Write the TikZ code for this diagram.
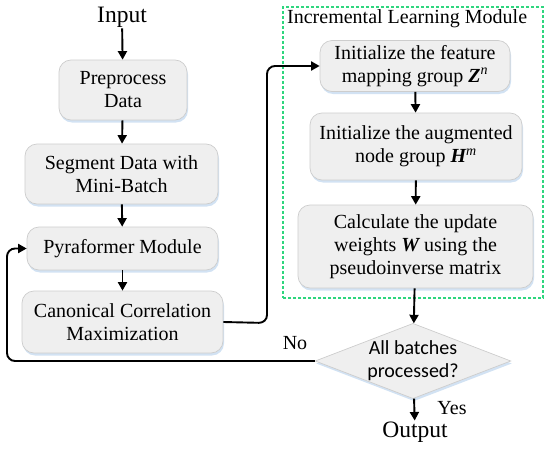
\documentclass[tikz,border=0pt]{standalone}
\usepackage{fontspec}
\setmainfont{Liberation Serif}
\newfontfamily\calfont{Carlito}
\newfontfamily\timesfont{Liberation Serif}
\usetikzlibrary{arrows.meta,shapes.geometric,shadows}
\definecolor{boxfill}{HTML}{EFEFEF}
\definecolor{boxline}{HTML}{CDCDCD}
\definecolor{shadowblue}{HTML}{BFD6EE}
\definecolor{dashgreen}{HTML}{2ED67E}
\tikzset{
  procbox/.style={draw=boxline, fill=boxfill, rounded corners=12pt, line width=0.7pt,
    align=center, font=\timesfont\fontsize{20}{23}\selectfont, inner sep=2pt,
    drop shadow={fill=shadowblue, opacity=0.7, shadow xshift=1pt, shadow yshift=-2.5pt}},
  decbox/.style={diamond, draw=boxline, fill=boxfill, line width=0.7pt, aspect=2.6,
    align=center, font=\calfont\fontsize{20}{23}\selectfont, inner sep=0pt,
    drop shadow={fill=shadowblue, opacity=0.7, shadow xshift=1pt, shadow yshift=-2.5pt}},
  term/.style={font=\timesfont\fontsize{23.5}{26}\selectfont, inner sep=1pt},
  lbl/.style={font=\timesfont\fontsize{20}{23}\selectfont, inner sep=1pt},
  flow/.style={line width=1.9pt, -{Triangle[length=8.5pt,width=9pt]}},
  ilmbox/.style={draw=dashgreen, dash pattern=on 3pt off 2pt, line width=1.2pt, inner sep=0pt}
}
\newcommand{\bi}[1]{{\bfseries\itshape #1}}
\begin{document}
\begin{tikzpicture}[x=1pt,y=-1pt]
\useasboundingbox (0,0) rectangle (550,450);
% dashed module box
\node[ilmbox, minimum width=260pt, minimum height=291pt] (ilm) at (413,152.5) {};
\node[lbl, anchor=west] (ilmlabel) at (286,19) {Incremental Learning Module};
% left column
\node[term] (in) at (122,17) {Input};
\node[procbox, minimum width=128pt, minimum height=60pt] (pre) at (123,90) {Preprocess\\Data};
\node[procbox, minimum width=193pt, minimum height=60pt] (seg) at (121.5,174) {Segment Data with\\Mini-Batch};
\node[procbox, minimum width=191pt, minimum height=43pt] (pyr) at (122.5,248.5) {Pyraformer Module};
\node[procbox, minimum width=201pt, minimum height=62pt] (ccm) at (122.5,322) {Canonical Correlation\\Maximization};
% right column
\node[procbox, minimum width=190pt, minimum height=51pt] (feat) at (415,66) {Initialize the feature\\mapping group \bi{Z}\textsuperscript{\itshape n}};
\node[procbox, minimum width=212pt, minimum height=67pt] (aug) at (416,146.5) {Initialize the augmented\\node group \bi{H}\textsuperscript{\itshape m}};
\node[procbox, minimum width=235pt, minimum height=83pt] (calc) at (415.5,246.5) {Calculate the update\\weights \bi{W} using the\\pseudoinverse matrix};
\node[decbox, minimum width=190pt, minimum height=74pt] (dec) at (413,361) {All batches\\processed?};
\node[term] (out) at (415,432) {Output};
\node[lbl] (no) at (295,343) {No};
\node[lbl] (yes) at (452,408) {Yes};
\coordinate (c1) at (267,323);
\coordinate (c2) at (267,66);
\coordinate (l1) at (7,361);
\coordinate (l2) at (7,248.5);
% connectors
\draw[flow] (in) -- (pre);
\draw[flow] (pre) -- (seg);
\draw[flow] (seg) -- (pyr);
\draw[flow] (pyr) -- (ccm);
\draw[flow, rounded corners=8pt] (ccm.east) -- (c1) -- (c2) -- (feat.west);
\draw[flow] (feat) -- (aug);
\draw[flow] (aug) -- (calc);
\draw[flow] (calc) -- (dec);
\draw[flow, rounded corners=8pt] (dec.west) -- (l1) -- (l2) -- (pyr.west);
\draw[flow] (dec) -- (out);
\end{tikzpicture}
\end{document}
